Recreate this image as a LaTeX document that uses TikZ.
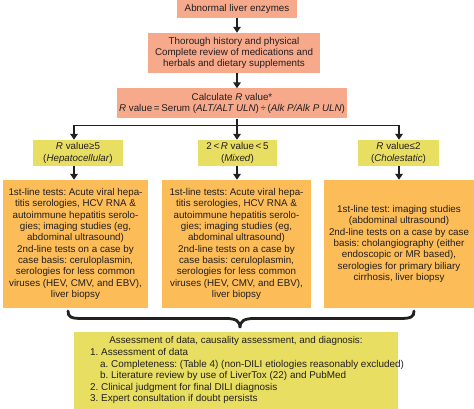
\documentclass[tikz,border=0pt]{standalone}
\usepackage{fontspec}
\setmainfont{Liberation Sans}
\usetikzlibrary{arrows.meta}
\definecolor{salmonc}{HTML}{F6A98B}
\definecolor{yellowc}{HTML}{E8DE62}
\definecolor{orangec}{HTML}{FCBC57}
\definecolor{inkc}{HTML}{231F20}
\newcommand{\ctrline}[1]{\hbox to 140pt{\hss #1\hss}}
\newcommand{\stackc}[1]{\vbox{\baselineskip=11.3pt\lineskiplimit=-5pt #1}}
\begin{document}
\begin{tikzpicture}[x=1pt,y=-1pt,
  font=\fontsize{9.8}{11.2}\selectfont\frenchspacing, text=inkc,
  box/.style={inner sep=0pt, align=center, anchor=center},
  sbox/.style={box, fill=salmonc},
  ybox/.style={box, fill=yellowc},
  obox/.style={inner sep=0pt, anchor=center, fill=orangec},
  arr/.style={line width=1.8pt, draw=inkc, -{Triangle[width=7.5pt,length=6pt]}},
  conn/.style={line width=1.8pt, draw=inkc},
  bracestyle/.style={line width=2.8pt, draw=inkc, line cap=round},
]
\useasboundingbox (0,0) rectangle (474,409);
% top chain
\node[sbox, minimum width=120pt, minimum height=18pt] (enz) at (237,9) {Abnormal liver enzymes};
\node[sbox, minimum width=172pt, minimum height=40pt] (hist) at (234,53)
  {Thorough history and physical\\Complete review of medications and\\herbals and dietary supplements};
\node[sbox, minimum width=230pt, minimum height=30pt] (calc) at (232,103.5)
  {Calculate \textit{R} value*\\\textit{R} value\,=\,Serum (\textit{ALT/ALT ULN})\,÷\,(\textit{Alk P/Alk P ULN})};
% pattern boxes
\node[ybox, minimum width=90pt, minimum height=26pt] (yl) at (78,153) {\textit{R} value≥5\\(\textit{Hepatocellular})};
\node[ybox, minimum width=79pt, minimum height=26pt] (ym) at (237.5,153) {2\,<\,\textit{R} value\,<\,5\\(\textit{Mixed})};
\node[ybox, minimum width=81pt, minimum height=26pt] (yr) at (398.5,153) {\textit{R} value≤2\\(\textit{Cholestatic})};
% test boxes
\node[obox, minimum width=145pt, minimum height=128pt] (ol) at (75.5,244)
  {\stackc{\ctrline{1st-line tests: Acute viral hepa-}\ctrline{titis serologies, HCV RNA \&}\ctrline{autoimmune hepatitis serolo-}\ctrline{gies; imaging studies (eg,}\ctrline{abdominal ultrasound)}\ctrline{2nd-line tests on a case by}\ctrline{case basis: ceruloplasmin,}\ctrline{serologies for less common}\ctrline{viruses (HEV, CMV, and EBV),}\ctrline{liver biopsy}}};
\node[obox, minimum width=149pt, minimum height=128pt] (om) at (236.5,244)
  {\stackc{\ctrline{1st-line tests: Acute viral hepa-}\ctrline{titis serologies, HCV RNA \&}\ctrline{autoimmune hepatitis serolo-}\ctrline{gies; imaging studies (eg,}\ctrline{abdominal ultrasound)}\ctrline{2nd-line tests on a case by}\ctrline{case basis: ceruloplasmin,}\ctrline{serologies for less common}\ctrline{viruses (HEV, CMV, and EBV),}\ctrline{liver biopsy}}};
\node[obox, minimum width=150pt, minimum height=128pt] (or) at (399,244)
  {\stackc{\ctrline{1st-line test: imaging studies}\ctrline{(abdominal ultrasound)}\ctrline{2nd-line tests on a case by case}\ctrline{basis: cholangiography (either}\ctrline{endoscopic or MR based),}\ctrline{serologies for primary biliary}\ctrline{cirrhosis, liver biopsy}}};
% assessment box
\node[ybox, minimum width=324pt, minimum height=77pt] (assess) at (236,370.5) {};
\node[inner sep=0pt] (atitle) at (236,341) {Assessment of data, causality assessment, and diagnosis:};
\node[anchor=north west, align=left, inner sep=0pt, font=\fontsize{9.9}{11.4}\selectfont\frenchspacing] (alist) at (90,348.5)
  {1. Assessment of data\\\hspace*{10pt}a. Completeness: (Table 4) (non-DILI etiologies reasonably excluded)\\\hspace*{10pt}b. Literature review by use of LiverTox (22) and PubMed\\2. Clinical judgment for final DILI diagnosis\\3. Expert consultation if doubt persists};
% connectors
\coordinate (split) at (237,125.5);
\coordinate (lsplit) at (74,125.5);
\coordinate (rsplit) at (399,125.5);
\draw[arr] (enz.south) -- (enz.south |- hist.north);
\draw[arr] (hist.south -| enz.south) -- (calc.north -| enz.south);
\draw[conn] (calc.south -| split) -- (split);
\draw[conn, line cap=rect] (lsplit) -- (rsplit);
\draw[arr] (lsplit) -- (lsplit |- yl.north);
\draw[arr] (split) -- (split |- ym.north);
\draw[arr] (rsplit) -- (rsplit |- yr.north);
\draw[arr] (yl.south -| lsplit) -- (ol.north -| lsplit);
\draw[arr] (ym.south -| split) -- (om.north -| split);
\draw[arr] (yr.south -| rsplit) -- (or.north -| rsplit);
% brace
\coordinate (bl) at (68,311);
\coordinate (br) at (414,311);
\coordinate (tip) at (240,328);
\draw[bracestyle] (bl) .. controls (68,317) and (71,318.5) .. (82,318.5) -- (226,318.5)
  .. controls (236,318.5) and (240,321) .. (tip)
  .. controls (240,321) and (244,318.5) .. (254,318.5) -- (400,318.5)
  .. controls (411,318.5) and (414,317) .. (br);
\end{tikzpicture}
\end{document}
